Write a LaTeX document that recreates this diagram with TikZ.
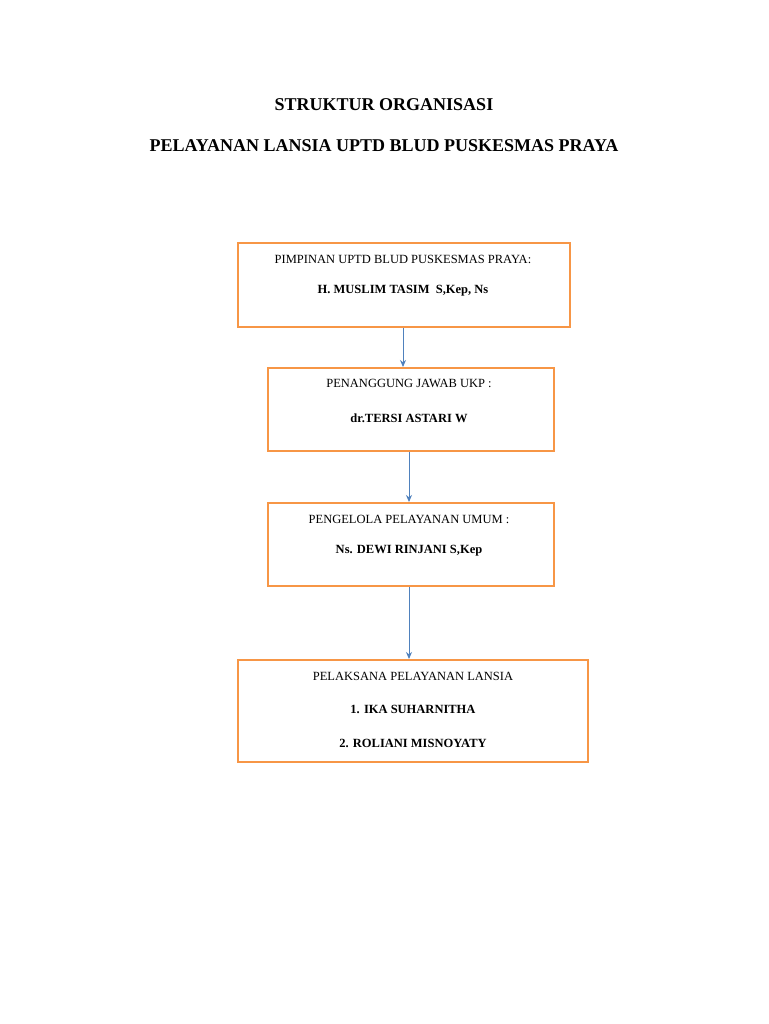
\documentclass[tikz,border=0pt]{standalone}
\usepackage{fontspec}
\setmainfont{Liberation Serif}
\usetikzlibrary{arrows.meta}
\definecolor{org}{RGB}{247,150,70}
\definecolor{blu}{RGB}{79,129,189}
\begin{document}
\begin{tikzpicture}[x=1pt,y=-1pt,
 box/.style={draw=org,line width=2pt,inner sep=0pt},
 txt/.style={font=\fontsize{12.5}{14}\selectfont,anchor=center,inner sep=0pt},
 ttl/.style={font=\fontsize{18}{20}\selectfont\bfseries,inner sep=0pt},
 conn/.style={draw=blu,line width=0.9pt,-{Stealth[length=7pt,width=6pt]}}]
\useasboundingbox[fill=white] (0,0) rectangle (768,1024);
\node[ttl] (t1) at (384,105) {STRUKTUR ORGANISASI};
\node[ttl] (t2) at (384,146) {PELAYANAN LANSIA UPTD BLUD PUSKESMAS PRAYA};
\node[box,minimum width=332pt,minimum height=84pt] (b1) at (404,285) {};
\node[box,minimum width=286pt,minimum height=83pt] (b2) at (411,409.5) {};
\node[box,minimum width=286pt,minimum height=83pt] (b3) at (411,544.5) {};
\node[box,minimum width=350pt,minimum height=102pt] (b4) at (413,711) {};
\node[txt] (l11) at (403,259) {PIMPINAN UPTD BLUD PUSKESMAS PRAYA:};
\node[txt,font=\fontsize{12.5}{14}\selectfont\bfseries] (l12) at (403,291) {H. MUSLIM TASIM\ \ S,Kep, Ns};
\node[txt] (l21) at (409,383) {PENANGGUNG JAWAB UKP :};
\node[txt,font=\fontsize{12.5}{14}\selectfont\bfseries] (l22) at (409,418) {dr.TERSI ASTARI W};
\node[txt] (l31) at (409,519) {PENGELOLA PELAYANAN UMUM :};
\node[txt,font=\fontsize{12.5}{14}\selectfont\bfseries] (l32) at (409,551) {Ns. DEWI RINJANI S,Kep};
\node[txt] (l41) at (413,676) {PELAKSANA PELAYANAN LANSIA};
\node[txt,font=\fontsize{12.5}{14}\selectfont\bfseries] (l42) at (413,709) {1. IKA SUHARNITHA};
\node[txt,font=\fontsize{12.5}{14}\selectfont\bfseries] (l43) at (413,743) {2. ROLIANI MISNOYATY};
\draw[conn] (b1.south -| 403,0) -- (b2.north -| 403,0);
\draw[conn] (b2.south -| 409,0) -- (b3.north -| 409,0);
\draw[conn] (b3.south -| 409,0) -- (b4.north -| 409,0);
\end{tikzpicture}
\end{document}
